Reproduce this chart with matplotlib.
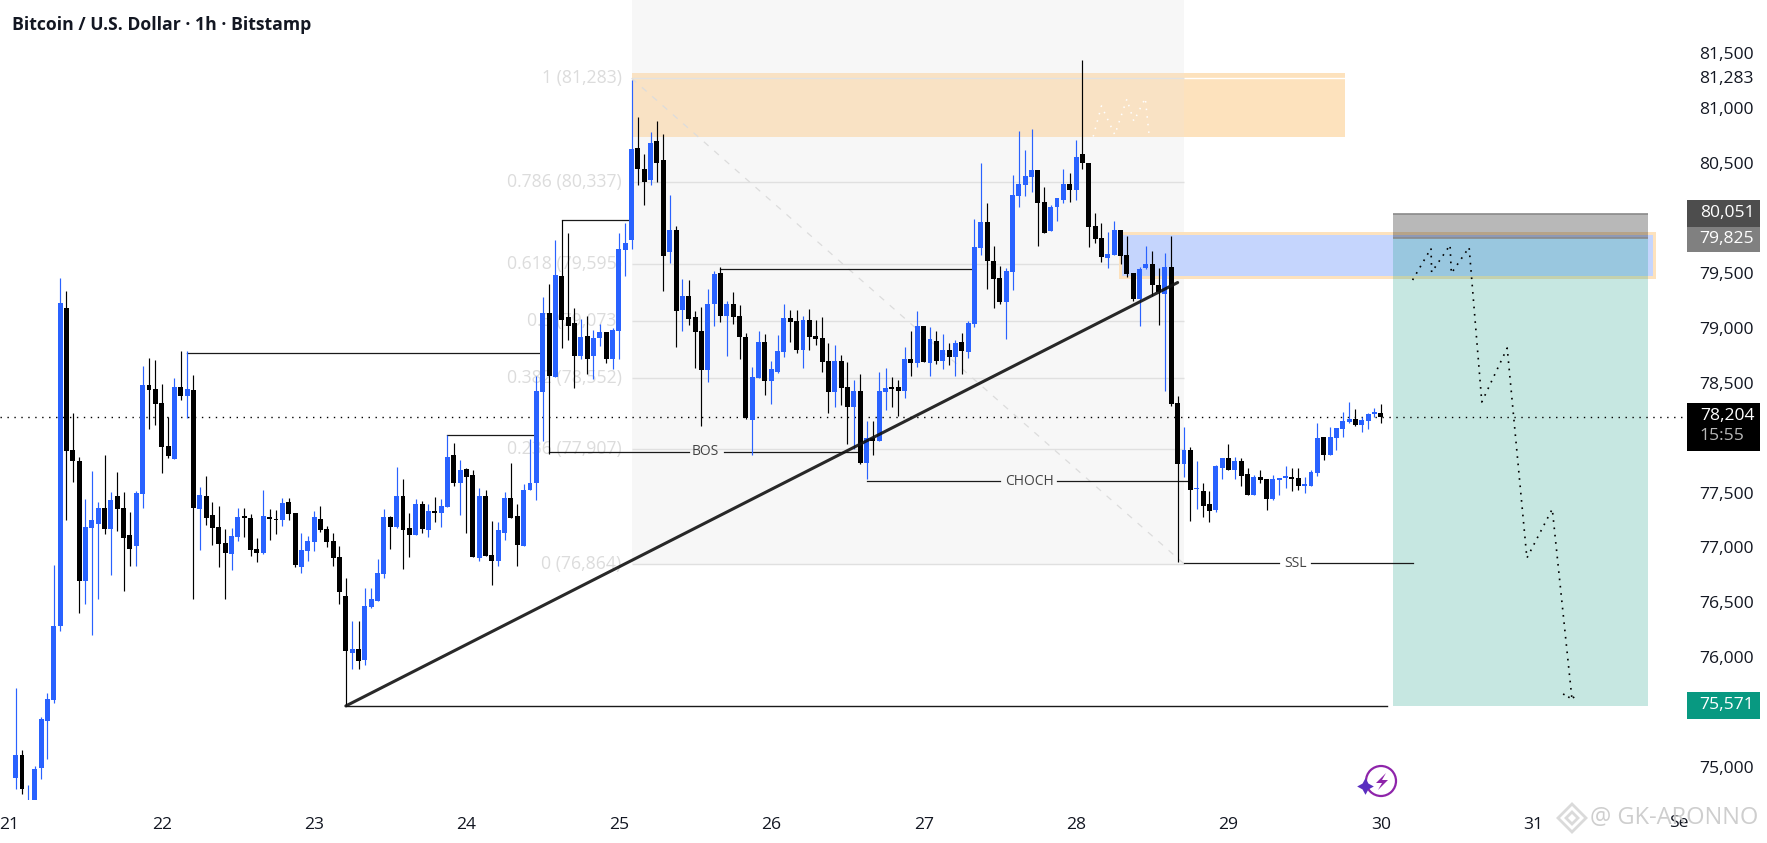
# BTC/USD 1h chart with fib levels, supply zones and a short setup
import matplotlib
matplotlib.use("Agg")
import matplotlib.pyplot as plt
from matplotlib.patches import Rectangle, Circle, Polygon

plt.rcParams['font.family'] = ['Open Sans', 'DejaVu Sans']

# hourly candles, hour 1 of the 21st up to hour 0 of the 30th
opens = [74900,75115,74600,74650,74990,75420,75616,76281,79178,77887,77788,76697,
77180,77216,77361,77169,77472,77361,77116,77017,77489,78481,78442,78314,
77923,77806,78460,78378,78435,77351,77472,77297,77187,77041,76942,77098,
77280,77269,76988,76952,77269,77262,77251,77415,77315,76825,76970,77047,
77259,77168,77059,76914,76558,76040,76076,75976,76458,76513,76759,77278,
77187,77469,77178,77114,77396,77159,77332,77314,77369,77842,77587,77714,
77660,76905,77469,76932,76877,77132,77451,77287,77014,77523,77587,78415,
79134,78551,79470,79097,79043,78743,78925,78743,78906,78961,78715,78970,
79707,79798,80635,80444,80344,80699,80526,79689,79889,79161,79289,79098,
78970,78615,79216,79498,79107,79216,79107,78916,78160,78543,78870,78515,
78597,78779,79088,79061,78797,79070,78925,78906,78697,78415,78697,78461,
78279,78424,77769,77996,77969,78415,78451,78461,78424,78715,78679,79016,
78679,78880,78698,78797,78735,78871,78778,79037,79728,79966,79611,79454,
79235,79509,80194,80296,80367,80432,80148,79883,80096,80166,80305,80250,
80577,80497,79929,79812,79630,79664,79892,79658,79500,79259,79546,79584,
79392,79309,79556,78315,77757,77887,77529,77510,77393,77338,77720,77813,
77702,77785,77669,77478,77642,77623,77441,77614,77632,77642,77632,77560,
77560,77678,78006,77842,77996,78078,78142,78169,78115,78151,78215,78224]
closes = [75115,74800,74680,74983,75435,75623,76288,79224,77880,77784,76697,77187,
77251,77361,77169,77432,77354,77088,76988,77497,78481,78435,78307,77916,
77834,78460,78378,78442,77361,77479,77269,77180,77034,76952,77105,77280,
77269,76977,76952,77287,77262,77248,77408,77308,76842,76977,77059,77281,
77159,77050,76905,76598,76061,76076,75967,76467,76531,76768,77278,77187,
77469,77159,77114,77396,77168,77332,77314,77378,77824,77587,77705,77642,
76914,77469,76923,76877,77159,77451,77269,77023,77523,77587,78424,79134,
78561,79480,79070,79016,78743,78915,78715,78906,78961,78715,78979,79716,
79771,80626,80444,80326,80681,80499,79653,79889,79152,79289,79079,78961,
78615,79216,79489,79107,79216,79098,78916,78179,78552,78870,78515,78624,
78788,79088,79052,78797,79070,78916,78897,78688,78415,78697,78452,78279,
78424,77769,77996,77969,78424,78451,78442,78424,78715,78679,79016,78688,
78897,78701,78797,78735,78862,78788,79044,79738,79966,79605,79445,79235,
79519,80204,80305,80376,80432,80139,79858,80096,80176,80305,80250,80549,
80497,79920,79806,79639,79673,79892,79648,79491,79259,79537,79584,79392,
79327,79556,78306,77757,77887,77520,77538,77375,77328,77739,77813,77702,
77785,77649,77478,77642,77614,77441,77623,77623,77642,77623,77560,77569,
77687,77996,77842,78006,78087,78151,78169,78115,78160,78215,78224,78187]
highs = [75723,75161,74841,75008,75456,75676,76842,79452,79334,78225,77820,77443,
77699,77411,77841,77507,77688,77507,77326,77514,78652,78726,78705,78488,
78183,78542,78787,78787,78570,77553,77653,77415,77379,77169,77180,77361,
77361,77305,77088,77525,77351,77344,77450,77450,77315,77134,77105,77332,
77378,77196,77135,77014,76719,76331,76331,76631,76631,76895,77350,77287,
77733,77623,77314,77441,77423,77396,77460,77441,78024,77951,77796,77724,
77705,77541,77523,77241,77232,77505,77769,77396,77578,77987,78561,79279,
79398,79798,79980,79862,79179,79079,79107,78979,79034,78961,78997,79862,
79953,81254,80917,80581,80781,80881,80763,80208,79926,79443,79434,79152,
79189,79352,79516,79552,79243,79325,79207,78952,78643,78970,78943,78697,
78934,79216,79161,79161,79107,79170,79070,79098,78861,78843,78752,78688,
78524,78579,78151,78151,78597,78634,78552,78524,78825,78970,79152,79016,
79007,78966,78945,78858,78889,78951,79065,79985,80497,80139,79747,79565,
79543,80386,80787,80614,80805,80432,80278,80120,80176,80441,80404,80706,
81434,80497,80040,79957,79867,79975,79892,79830,79500,79553,79747,79701,
79546,79682,79830,78374,78096,77918,77785,77584,77517,77748,77813,77939,
77819,77813,77723,77660,77705,77623,77660,77623,77742,77723,77723,77642,
77705,78133,78006,78097,78087,78233,78324,78260,78187,78224,78269,78306]
lows = [74800,74760,74500,74600,74891,75072,75587,76238,77248,77596,76405,76487,
76199,76533,77123,76754,77152,76608,76835,76835,77361,78079,78115,77678,
77813,77806,78343,78179,76530,76977,77205,77024,76825,76530,76796,77059,
77098,76924,76871,76942,77070,77123,77198,77251,76825,76771,76878,76968,
77144,77008,76835,76486,75571,75894,75894,75931,76449,76513,76726,76986,
77174,76804,76914,77114,77135,77096,77232,77187,77369,77560,77296,77132,
76914,76877,76923,76659,76832,77068,77269,76832,77014,77523,77432,77969,
77851,78551,78815,78888,78451,78715,78579,78533,78834,78679,78624,78715,
79470,79716,80299,80117,80299,80326,79334,79589,78825,78970,79025,78634,
78106,78506,79016,79052,78743,79034,78715,78169,77842,78543,78388,78306,
78588,78734,78870,78770,78634,78797,78843,78597,78224,78279,78297,77942,
77896,77760,77623,77842,77969,78251,78279,78197,78361,78561,78643,78688,
78561,78673,78621,78658,78559,78581,78720,79007,79664,79349,79182,79219,
78899,79346,80102,80194,80231,79747,79858,79883,79975,80139,80148,80166,
80441,79738,79775,79602,79546,79664,79583,79460,79244,79016,79537,79290,
79028,78427,78288,76864,77640,77239,77347,77279,77233,77319,77621,77702,
77621,77556,77478,77478,77587,77341,77432,77478,77541,77514,77523,77496,
77560,77651,77796,77842,77887,78006,78133,78106,78051,78078,78187,78133]
hours = list(range(1, len(opens) + 1))

# axis
day_hours = [0, 24, 48, 72, 96, 120, 144, 168, 192, 216, 240]
day_labels = ['21', '22', '23', '24', '25', '26', '27', '28', '29', '30', '31']
price_ticks = [81500, 81283, 81000, 80500, 79500, 79000, 78500, 77500, 77000, 76500, 76000, 75000]

# fibonacci levels
fib_ratios = ['1', '0.786', '0.618', '0.5', '0.382', '0.236', '0']
fib_prices = [81283, 80337, 79595, 79073, 78552, 77907, 76864]

# setup levels
last_price = 78204
stop_price = 80051
entry_price = 79825
target_price = 75571
# the drawn levels sit a hair under their tags in the screenshot
LEVEL_SHIFT = 13

# market structure lines: hour start, hour end, price
structure = [
    (28, 84, 78767), (69, 83, 78021), (87, 98, 79983), (112, 152, 79537),
    (85, 107, 77873), (112.5, 134, 77873),
    (135, 156, 77604), (165, 186, 77604),
    (185, 200, 76856), (205, 221, 76856),
]
struct_labels = [('BOS', 109.6, 77873), ('CHOCH', 160.6, 77604), ('SSL', 202.5, 76856)]

# projected path after entry, and the faint echo of it in the upper zone
path_hours = [221, 223.9, 224, 226.9, 227.1, 229.9, 231.9, 235.9, 239, 243, 246.1]
path_prices = [79434, 79722, 79504, 79752, 79495, 79731, 78324, 78815, 76904, 77350, 75621]
arrow_hours = [244.7, 246.1, 246.9]
arrow_prices = [75667, 75621, 75667]
ghost_hours = [170.7, 172, 174.1, 176, 177.1, 178.9, 179.5]
ghost_prices = [80740, 81018, 80756, 81080, 80879, 81089, 80756]

UP = '#2962ff'
DOWN = '#000000'
W, H = 1767, 843

fig = plt.figure(figsize=(W / 100, H / 100), dpi=100, facecolor='white')
ax = fig.add_axes([0, 1 - 800 / H, 1685 / W, 800 / H])
ax.set_xlim(-1.465, 263.9)
ax.set_ylim(74702, 81982)
for s in ax.spines.values():
    s.set_visible(False)

# fib box
fib_lines = [p - LEVEL_SHIFT for p in fib_prices]
ax.add_patch(Rectangle((98, fib_lines[-1]), 87, 81982 - fib_lines[-1], fc='#f7f7f7', ec='none', zorder=0))
ax.hlines(fib_lines, 98, 185, color='#e0e0e0', lw=1, zorder=0.5)
ax.plot([98, 185], [fib_lines[0], fib_lines[-1]], color='#dcdcdc', lw=0.9, ls=(0, (5, 6)), zorder=1.2)
for r, p, y in zip(fib_ratios, fib_prices, fib_lines):
    ax.text(96.4, y, f'{r} ({p:,})', color='#dcdcdc', fontsize=12.7, ha='right', va='center', zorder=0.6)

# zones
zone_end = 210.4
ax.add_patch(Rectangle((98, 80738), zone_end - 98, 81320 - 80738, fc='#fde2bd', ec='none', zorder=1))
ax.add_patch(Rectangle((98, 80738), 87, 81320 - 80738, fc='#f9e2c4', ec='none', zorder=1.05))
ax.hlines(fib_lines[0], 98, 185, color='#e2e2e2', lw=1, zorder=1.1)
ax.hlines(fib_lines[0], 185, zone_end, color='white', lw=1, zorder=1.1)
ax.plot(ghost_hours, ghost_prices, color='white', lw=1.1, ls=(0, (1, 4)), zorder=1.2)
ax.add_patch(Rectangle((174.8, 79443), 259.3 - 174.8, 79871 - 79443, fc='#fde2bd', ec='none', zorder=1))
ax.add_patch(Rectangle((175.3, 79470), 258.9 - 175.3, 79839 - 79470, fc='#c5d5fd', ec='none', zorder=1.1))

# position box
pos_x = 217.9
pos_w = 40.2
stop_y = stop_price - LEVEL_SHIFT
entry_y = entry_price - LEVEL_SHIFT
target_y = target_price - LEVEL_SHIFT
ax.add_patch(Rectangle((pos_x, target_y), pos_w, entry_y - target_y, fc='#009879', alpha=0.224, ec='none', zorder=1.5))
ax.add_patch(Rectangle((pos_x, entry_y), pos_w, stop_y - entry_y, fc='#000000', alpha=0.28, ec='none', zorder=1.5))
ax.hlines([stop_y, entry_y], pos_x, pos_x + pos_w, color='#8a8a8a', lw=1.2, zorder=1.6)

# candles
colors = [UP if c >= o else DOWN for o, c in zip(opens, closes)]
ax.vlines(hours, lows, highs, colors=colors, lw=0.85, zorder=3)
bottoms = [min(o, c) for o, c in zip(opens, closes)]
heights = [max(abs(c - o), 14) for o, c in zip(opens, closes)]
ax.bar(hours, heights, bottom=bottoms, width=0.78, color=colors, lw=0, zorder=3.1)

# price line and structure
ax.axhline(last_price - LEVEL_SHIFT, color='black', lw=1, ls=(0, (1, 4)), zorder=2)
for h0, h1, p in structure:
    ax.plot([h0, h1], [p, p], color='#1a1a1a', lw=0.9, zorder=2.5)
for name, h, p in struct_labels:
    ax.text(h, p, name, color='#444444', fontsize=10, ha='center', va='center', zorder=4)

# trendline and its base
ax.plot([53, 184], [target_y, 79411], color='#111111', lw=2.2, alpha=0.9, solid_capstyle='round', zorder=4)
ax.plot([53, 217], [target_y, target_y], color='#1a1a1a', lw=1, zorder=2.5)

# projection
ax.plot(path_hours, path_prices, color='black', lw=1.2, ls=(0, (1, 3.4)), zorder=4)
ax.plot(arrow_hours, arrow_prices, color='black', lw=1.2, ls=(0, (1, 2.5)), zorder=4)

# axes labels
ax.set_xticks(day_hours)
ax.set_xticklabels(day_labels, fontsize=12.6, color='#131722')
ax.yaxis.tick_right()
ax.set_yticks(price_ticks)
ax.set_yticklabels([f'{p:,}' for p in price_ticks], fontsize=12.6, color='#131722')
ax.tick_params(axis='both', length=0)
ax.tick_params(axis='x', pad=12)
ax.tick_params(axis='y', pad=10.5)

# overlay in pixels for title, price tags, badge and watermark
px = fig.add_axes([0, 0, 1, 1])
px.set_xlim(0, W)
px.set_ylim(H, 0)
px.axis('off')
px.text(12, 25, 'Bitcoin / U.S. Dollar · 1h · Bitstamp', fontsize=12.7, fontweight='bold', color='#131722', va='center')
px.text(1679, 823, 'Se', fontsize=12.6, color='#131722', ha='center', va='center')


def tag(y0, y1, color):
    px.add_patch(Rectangle((1687, y0), 73, y1 - y0, fc=color, ec='none'))


tag(200, 227, '#4d4d4d')
tag(227, 252, '#808080')
tag(403, 451, '#000000')
tag(692, 719, '#089981')
px.text(1727, 213, f'{stop_price:,}', color='white', fontsize=12.6, ha='center', va='center')
px.text(1727, 239, f'{entry_price:,}', color='white', fontsize=12.6, ha='center', va='center')
px.text(1727, 416, f'{last_price:,}', color='white', fontsize=12.6, ha='center', va='center')
px.text(1722, 436, '15:55', color='#b8b8b8', fontsize=12.6, ha='center', va='center')
px.text(1727, 705, f'{target_price:,}', color='white', fontsize=12.6, ha='center', va='center')

# lightning badge
px.add_patch(Circle((1381, 781), 15, fc='none', ec='#8e24aa', lw=1.6))
px.add_patch(Polygon([(1386, 773), (1376, 783), (1382, 783), (1378, 790), (1388, 780), (1382, 780)], fc='#8e24aa', ec='none'))
px.plot([1365], [786], marker=(4, 1, 0), ms=12, color='#5a2fc0', mew=0)

# watermark
px.text(1590, 818, '@ GK-ARONNO', fontsize=17, color='#c9c9c9', alpha=0.9, ha='left', va='center')
px.add_patch(Polygon([(1572, 804), (1586, 818), (1572, 832), (1558, 818)], fc='none', ec='#dadada', lw=2))
px.add_patch(Polygon([(1572, 812), (1578, 818), (1572, 824), (1566, 818)], fc='none', ec='#dadada', lw=2))

fig.savefig('out.png', dpi=100)
